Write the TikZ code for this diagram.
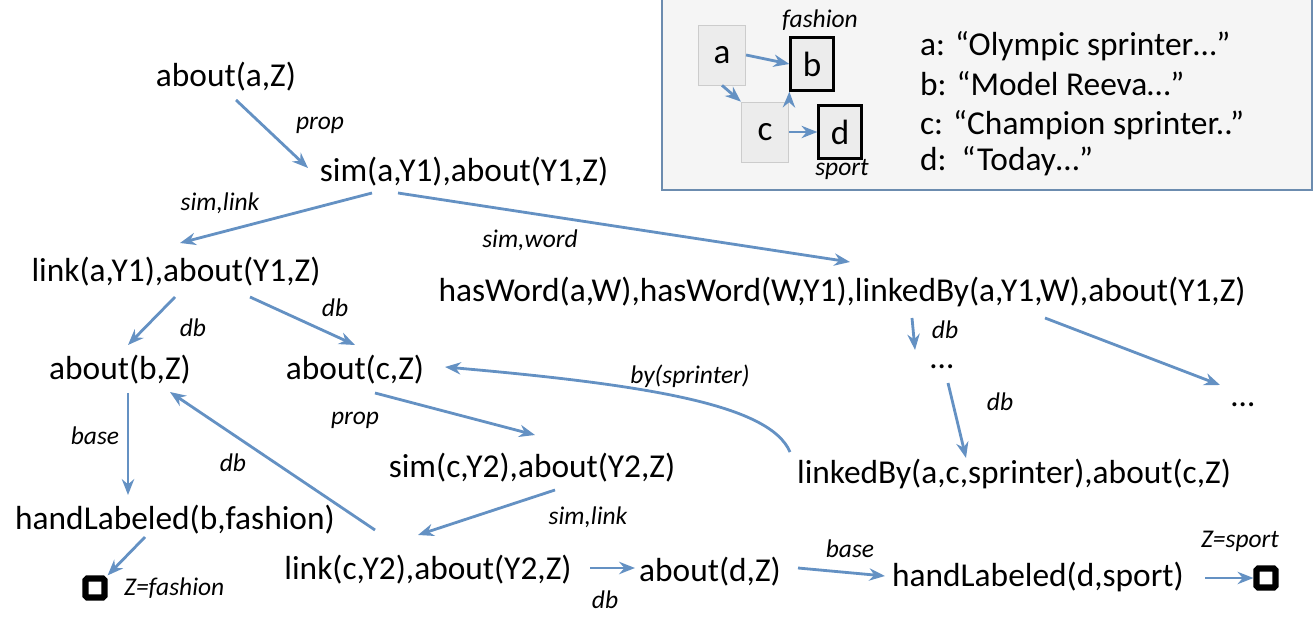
\documentclass[tikz,border=0pt]{standalone}
\usepackage{fontspec}
\setmainfont{Carlito}
\usetikzlibrary{arrows.meta}
\definecolor{arr}{RGB}{100,145,195}
\begin{document}
\begin{tikzpicture}[x=0.02cm,y=-0.02cm,
  t/.style={font=\fontsize{19}{21}\selectfont, inner sep=1pt},
  l/.style={font=\fontsize{14.5}{16}\selectfont\itshape, inner sep=1pt},
  e/.style={-{Stealth[length=9pt,width=7pt]}, arr, line width=1.6pt},
  doc/.style={draw=gray!40, fill=gray!15, minimum width=0.95cm, minimum height=1.2cm, font=\fontsize{20}{22}\selectfont},
  lab/.style={doc, draw=black, line width=1.6pt, minimum width=0.85cm, minimum height=1.05cm},
  sq/.style={draw=black, fill=white, line width=3.5pt, minimum size=0.38cm, inner sep=0pt, rounded corners=1pt}]
\useasboundingbox (0,0) rectangle (1314,644);
% inset
\draw[fill=gray!8, draw=arr!70!gray, line width=1pt] (662,-5) rectangle (1312,190);
\node[doc] (ia) at (722,55) {a};
\node[lab] (ib) at (812,64) {b};
\node[doc] (ic) at (765,132) {c};
\node[lab] (id) at (840,132) {d};
\node[l] (fa) at (820,20) {fashion};
\node[l] (sp) at (842,170) {sport};
\draw[e] (ia.east) -- (ib.west);
\draw[e] (ia.south) -- (ic.north west);
\draw[e] (ic.north east) -- (ib.south west);
\draw[e] (ic.east) -- (id.west);
\node[t, anchor=west] (da) at (918,46) {a: “Olympic sprinter…”};
\node[t, anchor=west] (db) at (918,84) {b: “Model Reeva…”};
\node[t, anchor=west] (dc) at (918,125) {c: “Champion sprinter..”};
\node[t, anchor=west] (dd) at (918,161) {d:\ \ “Today…”};
% main nodes
\node[t] (aaZ) at (226,77) {about(a,Z)};
\node[t] (sim1) at (464,172) {sim(a,Y1),about(Y1,Z)};
\node[t] (link1) at (176,272) {link(a,Y1),about(Y1,Z)};
\node[t] (hw) at (842,292) {hasWord(a,W),hasWord(W,Y1),linkedBy(a,Y1,W),about(Y1,Z)};
\node[t] (abZ) at (120,370) {about(b,Z)};
\node[t] (acZ) at (355,370) {about(c,Z)};
\node[t] (dots1) at (942,367) {…};
\node[t] (dots2) at (1243,405) {…};
\node[t] (sim2) at (532,468) {sim(c,Y2),about(Y2,Z)};
\node[t] (lb) at (1014,474) {linkedBy(a,c,sprinter),about(c,Z)};
\node[t] (hlb) at (175,520) {handLabeled(b,fashion)};
\node[t] (link2) at (428,570) {link(c,Y2),about(Y2,Z)};
\node[t] (adZ) at (710,572) {about(d,Z)};
\node[t] (hld) at (1038,577) {handLabeled(d,sport)};
\node[sq] (sqa) at (95,588) {};
\node[sq] (sqb) at (1266,578) {};
\node[l, anchor=west] (zf) at (122,588) {Z=fashion};
\node[l] (zs) at (1240,541) {Z=sport};
% connector end points
\coordinate (p1) at (236,100); \coordinate (q1) at (308,168);
\coordinate (p2) at (372,193); \coordinate (q2) at (180,243);
\coordinate (p3) at (398,193); \coordinate (q3) at (850,262);
\coordinate (p4) at (175,297); \coordinate (q4) at (128,345);
\coordinate (p5) at (250,297); \coordinate (q5) at (355,345);
\coordinate (p6) at (912,318); \coordinate (q6) at (915,350);
\coordinate (p7) at (1045,318); \coordinate (q7) at (1220,385);
\coordinate (p8) at (948,383); \coordinate (q8) at (966,458);
\coordinate (p9) at (790,452); \coordinate (q9) at (445,367);
\coordinate (p10) at (375,393); \coordinate (q10) at (535,435);
\coordinate (p11) at (128,393); \coordinate (q11) at (128,495);
\coordinate (p12) at (375,530); \coordinate (q12) at (170,392);
\coordinate (p13) at (555,490); \coordinate (q13) at (418,535);
\coordinate (p14) at (590,568); \coordinate (q14) at (635,568);
\coordinate (p15) at (798,568); \coordinate (q15) at (885,576);
\coordinate (p16) at (1205,578); \coordinate (p17) at (145,537);
% connectors
\draw[e] (p1) -- (q1);
\node[l] (lp1) at (320,125) {prop};
\draw[e] (p2) -- (q2);
\node[l] (lsl1) at (220,203) {sim,link};
\draw[e] (p3) -- (q3);
\node[l] (lsw) at (530,240) {sim,word};
\draw[e] (p4) -- (q4);
\node[l] (ldb1) at (193,328) {db};
\draw[e] (p5) -- (q5);
\node[l] (ldb2) at (335,308) {db};
\draw[e] (p6) -- (q6);
\node[l] (ldb3) at (945,330) {db};
\draw[e] (p7) -- (q7);
\draw[e] (p8) -- (q8);
\node[l] (ldb4) at (1000,402) {db};
\draw[e] (p9) .. controls (770,405) and (650,385) .. (q9);
\node[l] (lby) at (690,376) {by(sprinter)};
\draw[e] (p10) -- (q10);
\node[l] (lp2) at (355,420) {prop};
\draw[e] (p11) -- (q11);
\node[l] (lbase1) at (95,436) {base};
\draw[e] (p12) -- (q12);
\node[l] (ldb5) at (233,463) {db};
\draw[e] (p13) -- (q13);
\node[l] (lsl2) at (588,517) {sim,link};
\draw[e] (p14) -- (q14);
\node[l] (ldb6) at (605,600) {db};
\draw[e] (p15) -- (q15);
\node[l] (lbase2) at (850,549) {base};
\draw[e] (p16) -- (sqb.west);
\draw[e] (p17) -- (sqa.north east);
\end{tikzpicture}
\end{document}
